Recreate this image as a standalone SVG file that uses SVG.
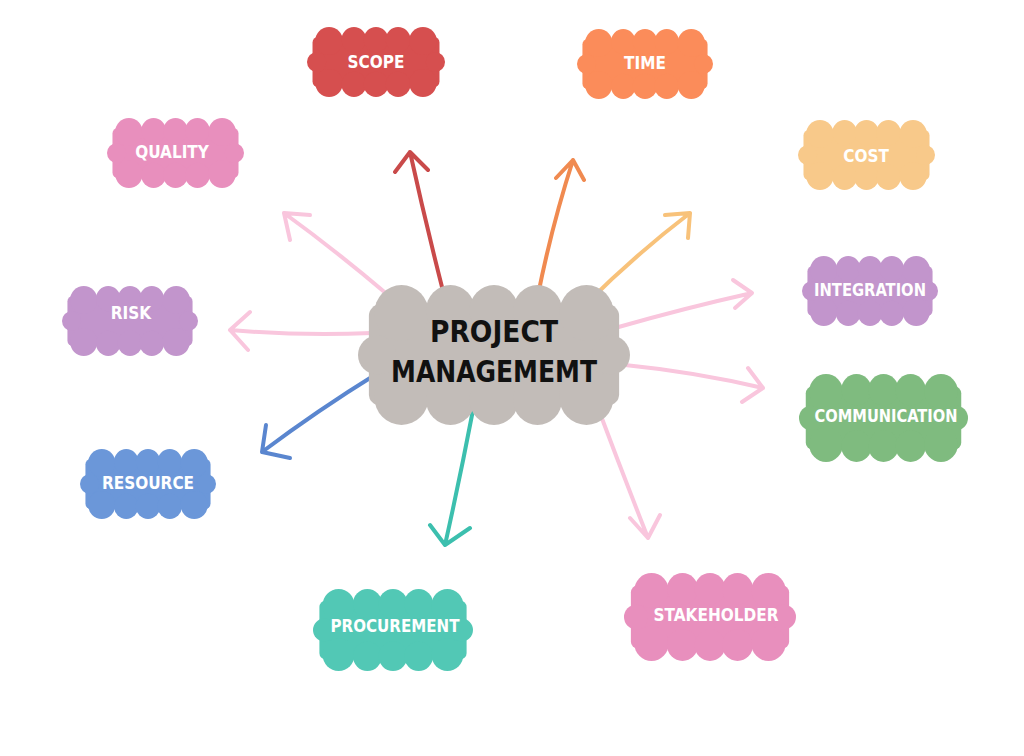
<svg xmlns="http://www.w3.org/2000/svg" xmlns:xlink="http://www.w3.org/1999/xlink" width="1024" height="756" viewBox="0 0 1024 756">
<style>
.t{font-family:"DejaVu Sans Condensed","DejaVu Sans",sans-serif;font-weight:bold;fill:#fff;font-size:17px;text-anchor:middle;dominant-baseline:central}
.c{fill:#111;font-size:31px}
.a{fill:none;stroke-width:4;stroke-linecap:round;stroke-linejoin:round}
</style>
<defs>
<symbol id="cl" viewBox="0 0 100 50" preserveAspectRatio="none">
<rect x="4" y="7" width="92" height="36" rx="4"/>
<circle cx="16" cy="10" r="10"/><circle cx="34" cy="9" r="9"/><circle cx="50" cy="9" r="9"/><circle cx="66" cy="9" r="9"/><circle cx="84" cy="10" r="10"/>
<circle cx="16" cy="40" r="10"/><circle cx="34" cy="41" r="9"/><circle cx="50" cy="41" r="9"/><circle cx="66" cy="41" r="9"/><circle cx="84" cy="40" r="10"/>
<circle cx="7" cy="25" r="7"/><circle cx="93" cy="25" r="7"/>
</symbol>
</defs>
<rect width="1024" height="756" fill="#fff"/>
<g id="connectors">
<path class="a" stroke="#c94a4a" d="M442 287 Q425 220 410 152 M395 172 L410 152 L428 170"/>
<path class="a" stroke="#f08a50" d="M538 295 Q552 225 573 160 M556 178 L573 160 L584 180"/>
<path class="a" stroke="#f8c27a" d="M585 305 Q635 255 690 213 M665 215 L690 213 L688 238"/>
<path class="a" stroke="#f9c6dd" d="M388 295 Q335 250 284 213 M290 240 L284 213 L310 215"/>
<path class="a" stroke="#f9c6dd" d="M615 328 Q685 308 752 293 M733 280 L752 293 L735 308"/>
<path class="a" stroke="#f9c6dd" d="M372 333 Q300 336 230 330 M250 312 L230 330 L248 350"/>
<path class="a" stroke="#f9c6dd" d="M625 365 Q695 372 763 388 M748 368 L763 388 L742 402"/>
<path class="a" stroke="#5a86cf" d="M378 373 Q318 410 262 452 M266 425 L262 452 L290 458"/>
<path class="a" stroke="#3cbfae" d="M473 410 Q460 478 445 545 M430 525 L445 545 L470 528"/>
<path class="a" stroke="#f9c6dd" d="M598 408 Q622 472 648 538 M630 518 L648 538 L660 515"/>
</g>
<g id="center"><use href="#cl" x="358" y="285" width="272" height="140" fill="#c2bcb8"/>
<text class="t c" x="494" y="331" textLength="128" lengthAdjust="spacingAndGlyphs">PROJECT</text><text class="t c" x="494" y="371" textLength="206" lengthAdjust="spacingAndGlyphs">MANAGEMEMT</text></g>
<g id="scope"><use href="#cl" x="307" y="27" width="138" height="70" fill="#d64f4f"/><text class="t" x="376" y="62">SCOPE</text></g>
<g id="time"><use href="#cl" x="577" y="29" width="136" height="70" fill="#fb8c5a"/><text class="t" x="645" y="63">TIME</text></g>
<g id="cost"><use href="#cl" x="798" y="120" width="137" height="70" fill="#f8c98a"/><text class="t" x="866" y="156">COST</text></g>
<g id="quality"><use href="#cl" x="107" y="118" width="137" height="70" fill="#e88fbd"/><text class="t" x="172" y="152">QUALITY</text></g>
<g id="integration"><use href="#cl" x="802" y="256" width="136" height="70" fill="#c295cc"/><text class="t" x="870" y="290" textLength="112" lengthAdjust="spacingAndGlyphs">INTEGRATION</text></g>
<g id="risk"><use href="#cl" x="62" y="286" width="136" height="70" fill="#c295cc"/><text class="t" x="131" y="313">RISK</text></g>
<g id="communication"><use href="#cl" x="799" y="374" width="169" height="88" fill="#7fbb7f"/><text class="t" x="886" y="416" textLength="143" lengthAdjust="spacingAndGlyphs">COMMUNICATION</text></g>
<g id="resource"><use href="#cl" x="80" y="449" width="136" height="70" fill="#6b97d9"/><text class="t" x="148" y="483">RESOURCE</text></g>
<g id="procurement"><use href="#cl" x="313" y="589" width="160" height="82" fill="#52c8b5"/><text class="t" x="395" y="626" textLength="129" lengthAdjust="spacingAndGlyphs">PROCUREMENT</text></g>
<g id="stakeholder"><use href="#cl" x="624" y="573" width="172" height="88" fill="#e88fbd"/><text class="t" x="716" y="615" textLength="125" lengthAdjust="spacingAndGlyphs">STAKEHOLDER</text></g>
</svg>
